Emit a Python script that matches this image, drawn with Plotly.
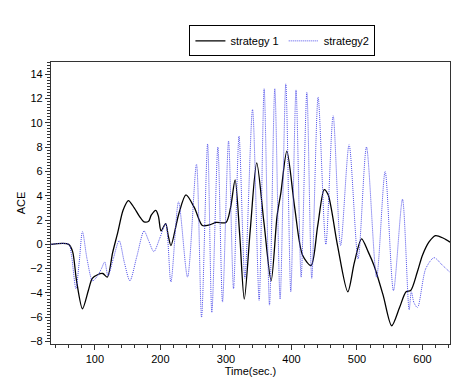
import plotly.graph_objects as go

# strategy 1 (black solid)
s1_x = [33, 60, 66, 72, 81, 90, 96, 104, 112, 119, 127, 135, 143, 151, 160, 168, 175, 182, 186, 193,
        197, 201, 208, 212, 216, 228, 239, 252, 264, 275, 285, 300, 307, 314, 321, 328, 337, 347, 358,
        369, 378, 384, 393, 405, 417, 430, 440, 450, 456, 470, 486, 496, 507, 517, 526, 540, 553, 565,
        575, 582, 592, 600, 610, 620, 632, 642]
s1_y = [0, 0, -0.6, -3.0, -5.3, -3.8, -2.8, -2.5, -2.4, -2.7, -0.7, 1.0, 2.8, 3.6, 3.0, 2.3, 1.85, 1.9, 2.4, 2.8,
        2.3, 1.1, 1.7, 0.7, -0.1, 2.5, 4.07, 3.0, 1.55, 1.6, 1.8, 1.8, 3.0, 5.3, 0.8, -4.5, 1.1, 6.7, 1.8,
        -3.0, 2.3, 4.3, 7.66, 3.0, -0.9, -1.74, 1.5, 4.5, 4.07, 0.0, -3.9, -1.5, 0.45, -0.6, -1.74, -4.2, -6.7, -5.2,
        -3.9, -3.8, -2.3, -0.9, 0.2, 0.72, 0.5, 0.18]

# strategy2 (blue dotted)
s2_x = [33, 60, 64, 71, 76, 81, 88, 96.5, 104, 110, 115, 120, 128, 137, 145, 153.4, 164, 175, 182, 190,
        199, 208, 216, 227.7, 241.4, 255, 262.8, 272, 278.5, 287.7, 294.8, 304, 311.6, 320, 328.9, 340.6,
        350.7, 358.3, 366.5, 374.6, 382.7, 391.4, 399, 407, 414.8, 423.5, 431, 440.7, 452.5, 463.6, 475,
        488, 501.7, 514.5, 530, 543, 555.7, 569.5, 579.6, 583, 587, 592.4, 605, 617.7, 630, 642]
s2_y = [0, 0, -0.8, -3.65, -1.5, 1.05, -1.2, -3.0, -2.6, -2.0, -1.45, -2.6, -1.2, 0.3, -1.5, -3.0, -1.0, 1.1, 0.3, -0.6,
        0.5, 1.7, -3.1, 3.5, -2.7, 6.6, -6.0, 8.26, -5.6, 8.0, -4.75, 8.5, -3.65, 8.9, -2.8, 11.1,
        -4.6, 12.8, -5.0, 12.8, -4.5, 13.2, -3.9, 12.7, -2.7, 12.5, -2.8, 12.1, 0.0, 10.6, -0.1,
        8.2, -1.2, 8.0, -2.7, 6.0, -3.8, 3.7, -5.4, -3.9, -4.8, -5.2, -2.0, -1.1, -1.7, -2.3]

fig = go.Figure()
fig.add_trace(go.Scatter(x=s1_x, y=s1_y, mode="lines", name="strategy 1",
                         line=dict(color="black", width=1.3, shape="spline", smoothing=0.8)))
fig.add_trace(go.Scatter(x=s2_x, y=s2_y, mode="lines", name="strategy2",
                         line=dict(color="rgb(80,80,235)", width=1, dash="1px,1px", shape="spline", smoothing=0.8)))

font = dict(family="Liberation Sans, Arial, sans-serif", size=11, color="black")
fig.update_layout(
    width=474, height=389,
    margin=dict(l=43, r=32, t=54, b=53),
    paper_bgcolor="white", plot_bgcolor="white",
    font=font,
    showlegend=True,
    legend=dict(orientation="h", x=0.58, xanchor="center", y=1.02, yanchor="bottom",
                bordercolor="black", borderwidth=1, bgcolor="white", font=font,
                itemwidth=30, tracegroupgap=0),
    xaxis=dict(range=[33, 642], tick0=0, dtick=100, showgrid=False, zeroline=False,
               showline=True, linecolor="#333", linewidth=1.2, mirror=True,
               ticks="outside", ticklen=5, tickcolor="#333",
               minor=dict(dtick=20, ticks="outside", ticklen=3, tickcolor="#333"),
               title=dict(text="Time(sec.)", standoff=2, font=font)),
    yaxis=dict(range=[-8.2, 15], tick0=0, dtick=2, showgrid=False, zeroline=False,
               showline=True, linecolor="#333", linewidth=1.2, mirror=True,
               ticks="outside", ticklen=5, tickcolor="#333",
               minor=dict(dtick=0.25, ticks="outside", ticklen=3, tickcolor="#333"),
               title=dict(text="ACE", standoff=2, font=font)),
)

fig.write_html("out.html")
